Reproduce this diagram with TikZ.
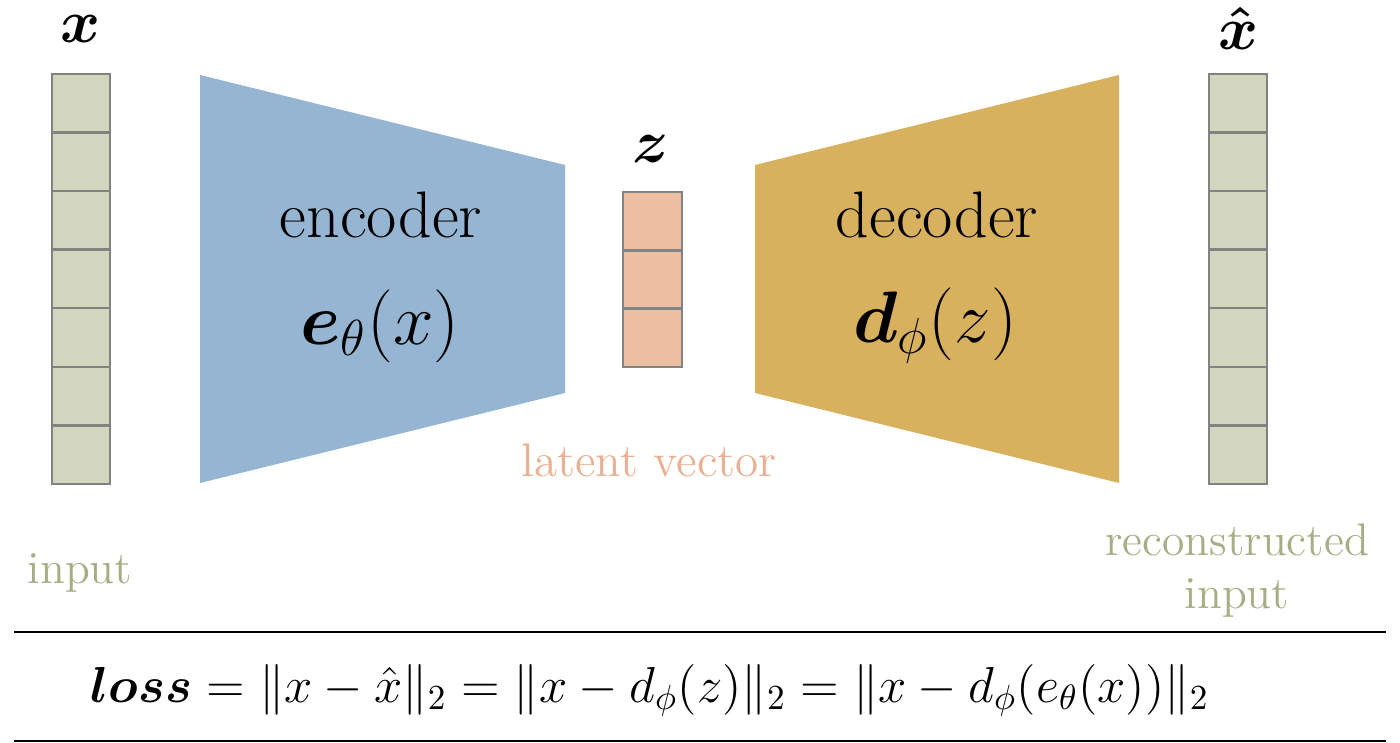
\documentclass[tikz,border=0pt]{standalone}
\usepackage{amsmath}
\usepackage{amssymb}
\usepackage{bm}
\usepackage{xcolor}
\definecolor{cellgreen}{HTML}{D3D6BF}
\definecolor{cellgray}{HTML}{828282}
\definecolor{encblue}{HTML}{95B5D3}
\definecolor{decgold}{HTML}{D8B15E}
\definecolor{latfill}{HTML}{EDBFA2}
\definecolor{lattext}{HTML}{EBB093}
\definecolor{olive}{HTML}{A8AD85}

\begin{document}
\begin{tikzpicture}[x=0.01cm,y=-0.01cm,
    cell/.style={draw=cellgray,line width=0.7pt,fill=cellgreen,minimum width=0.58cm,
                 minimum height=0.586cm,inner sep=0pt,outer sep=0pt},
    zcell/.style={cell,fill=latfill,minimum width=0.59cm,minimum height=0.583cm},
    vec/.style={anchor=base,inner sep=0pt,font=\fontsize{16}{19}\selectfont},
    word/.style={anchor=base,inner sep=0pt,font=\fontsize{18.7}{22}\selectfont},
    func/.style={anchor=base,inner sep=0pt,font=\fontsize{22}{26}\selectfont},
    note/.style={anchor=base,inner sep=0pt,font=\fontsize{13}{15}\selectfont},
    eqn/.style={anchor=base,inner sep=0pt,font=\fontsize{13.6}{16}\selectfont}]
\useasboundingbox (0,0) rectangle (1400,743);
% input vector
\foreach \i in {1,...,7}
  \node[cell] (xin\i) at (81,{74+(\i-0.5)*58.57}) {};
\node[vec] (xlab) at (81,43) {$\bm{x}$};
\node[note,text=olive] (inlab) at (80,583) {input};
% encoder
\fill[encblue] (200,75) -- (565,165) -- (565,393) -- (200,483) -- cycle;
\node[word] (enc) at (381,238) {encoder};
\node[func] (encf) at (380,345) {$\bm{e}_\theta(x)$};
% latent vector
\foreach \i in {1,2,3}
  \node[zcell] (z\i) at (652.5,{192+(\i-0.5)*58.33}) {};
\node[vec] (zlab) at (651,163) {$\bm{z}$};
\node[note,text=lattext,font=\fontsize{13.4}{16}\selectfont] (latlab) at (649,477) {latent vector};
% decoder
\fill[decgold] (755,165) -- (1119,75) -- (1119,483) -- (755,393) -- cycle;
\node[word] (dec) at (937,238) {decoder};
\node[func] (decf) at (935,343) {$\bm{d}_\phi(z)$};
% reconstructed input
\foreach \i in {1,...,7}
  \node[cell] (xout\i) at (1238,{74+(\i-0.5)*58.57}) {};
\node[vec] (xhlab) at (1239,50) {$\bm{\hat{x}}$};
\node[note,text=olive] (reclab) at (1237,555) {reconstructed};
\node[note,text=olive] (reclab2) at (1237,608) {input};
% loss
\draw[line width=0.7pt] (14,632) -- (1386,632);
\node[eqn] (losseq) at (650,702) {$\bm{loss}=\Vert x-\hat{x}\Vert_2=\Vert x-d_\phi(z)\Vert_2=\Vert x-d_\phi(e_\theta(x))\Vert_2$};
\draw[line width=0.7pt] (14,741) -- (1386,741);
\end{tikzpicture}
\end{document}
